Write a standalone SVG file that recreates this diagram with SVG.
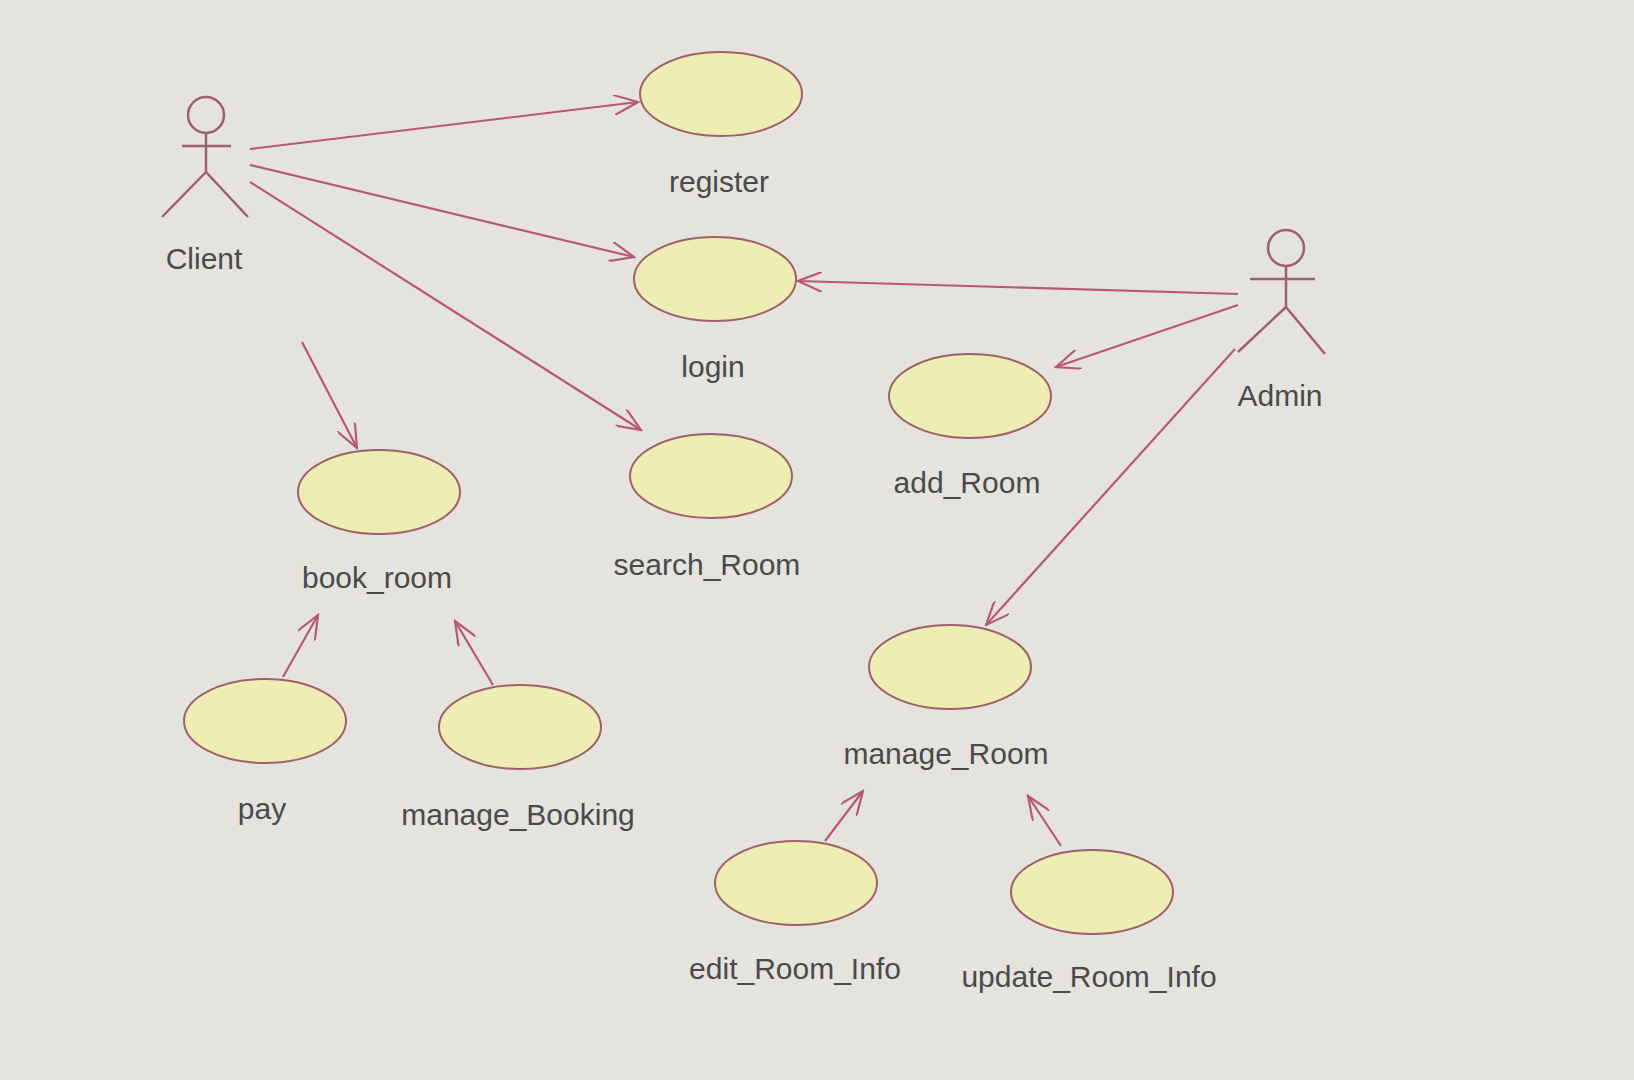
<svg xmlns="http://www.w3.org/2000/svg" width="1634" height="1080" viewBox="0 0 1634 1080">
<defs>
<style>
.uc{fill:#eeeeb4;stroke:#a0606a;stroke-width:2}
.act{fill:none;stroke:#a0606a;stroke-width:2.5}
.ln{stroke:#b85878;stroke-width:2.2;fill:none}
text{font-family:"Liberation Sans",Arial,sans-serif;font-size:30px;fill:#4a4a4a;text-anchor:middle}
</style>
<marker id="arr" markerWidth="26" markerHeight="20" refX="24" refY="10" orient="auto" markerUnits="userSpaceOnUse">
<path d="M0,0 L24,10 L0,20" fill="none" stroke="#b85878" stroke-width="2.2"/>
</marker>
</defs>
<rect width="1634" height="1080" fill="#e5e3de"/>
<g id="connectors">
<line class="ln" x1="250" y1="149" x2="638" y2="102" marker-end="url(#arr)"/>
<line class="ln" x1="250" y1="165" x2="634" y2="257" marker-end="url(#arr)"/>
<line class="ln" x1="250" y1="182" x2="641" y2="430" marker-end="url(#arr)"/>
<line class="ln" x1="302" y1="342" x2="357" y2="448" marker-end="url(#arr)"/>
<line class="ln" x1="1238" y1="294" x2="798" y2="281" marker-end="url(#arr)"/>
<line class="ln" x1="1238" y1="305" x2="1056" y2="367" marker-end="url(#arr)"/>
<line class="ln" x1="1235" y1="349" x2="986" y2="625" marker-end="url(#arr)"/>
<line class="ln" x1="283" y1="677" x2="318" y2="615" marker-end="url(#arr)"/>
<line class="ln" x1="493" y1="685" x2="455" y2="621" marker-end="url(#arr)"/>
<line class="ln" x1="825" y1="841" x2="863" y2="791" marker-end="url(#arr)"/>
<line class="ln" x1="1061" y1="846" x2="1028" y2="796" marker-end="url(#arr)"/>
</g>
<g id="client">
<circle class="act" cx="206" cy="115" r="18"/>
<path class="act" d="M206,133 V172 M182,146 H231 M162,217 L206,172 L248,217"/>
<text x="204" y="269">Client</text>
</g>
<g id="admin">
<circle class="act" cx="1286" cy="248" r="18"/>
<path class="act" d="M1286,266 V307 M1250,279 H1315 M1238,352 L1286,307 L1325,354"/>
<text x="1280" y="406">Admin</text>
</g>
<g id="register"><ellipse class="uc" cx="721" cy="94" rx="81" ry="42"/><text x="719" y="192">register</text></g>
<g id="login"><ellipse class="uc" cx="715" cy="279" rx="81" ry="42"/><text x="713" y="377">login</text></g>
<g id="search_Room"><ellipse class="uc" cx="711" cy="476" rx="81" ry="42"/><text x="707" y="575">search_Room</text></g>
<g id="book_room"><ellipse class="uc" cx="379" cy="492" rx="81" ry="42"/><text x="377" y="588">book_room</text></g>
<g id="add_Room"><ellipse class="uc" cx="970" cy="396" rx="81" ry="42"/><text x="967" y="493">add_Room</text></g>
<g id="manage_Room"><ellipse class="uc" cx="950" cy="667" rx="81" ry="42"/><text x="946" y="764">manage_Room</text></g>
<g id="pay"><ellipse class="uc" cx="265" cy="721" rx="81" ry="42"/><text x="262" y="819">pay</text></g>
<g id="manage_Booking"><ellipse class="uc" cx="520" cy="727" rx="81" ry="42"/><text x="518" y="825">manage_Booking</text></g>
<g id="edit_Room_Info"><ellipse class="uc" cx="796" cy="883" rx="81" ry="42"/><text x="795" y="979">edit_Room_Info</text></g>
<g id="update_Room_Info"><ellipse class="uc" cx="1092" cy="892" rx="81" ry="42"/><text x="1089" y="987">update_Room_Info</text></g>
</svg>
